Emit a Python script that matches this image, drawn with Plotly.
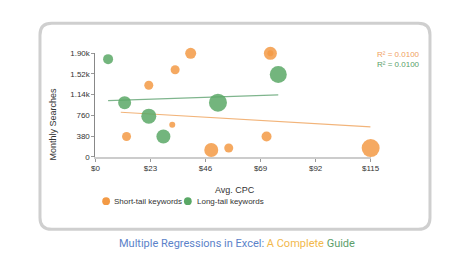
import plotly.graph_objects as go

W, H = 474, 271

# ---- data ----
short_cpc = [39.8, 33.3, 22.3, 32.1, 13.0, 48.4, 55.7, 73.1, 73.1, 71.5, 115.0]
short_searches = [1900, 1598, 1314, 586, 373, 124, 160, 1900, 1900, 373, 160]
short_size = [11, 9, 9, 6, 9, 14, 9, 13, 6, 10, 18]

long_cpc = [5.3, 12.2, 51.2, 22.3, 28.4, 76.4]
long_searches = [1793, 994, 994, 746, 373, 1509]
long_size = [10, 13, 18, 15, 14, 17]

short_trend_x = [10.6, 115.0]
short_trend_y = [817, 550]
long_trend_x = [5.3, 76.4]
long_trend_y = [1030, 1137]

x_tickvals = [0, 23, 46, 69, 92, 115]
x_ticktext = ["$0", "$23", "$46", "$69", "$92", "$115"]
y_tickvals = [0, 380, 760, 1140, 1520, 1900]
y_ticktext = ["0", "380", "760", "1.14k", "1.52k", "1.90k"]

ORANGE = "#f39a45"
GREEN = "#5aa866"
FONT = "Liberation Sans, Arial, sans-serif"

def px(x):
    return x / W

def py(y):
    return 1 - y / H

fig = go.Figure()

fig.add_trace(go.Scatter(x=short_trend_x, y=short_trend_y, mode="lines",
                         line=dict(color="#f2b47a", width=1.2), cliponaxis=False,
                         showlegend=False, hoverinfo="skip"))
fig.add_trace(go.Scatter(x=long_trend_x, y=long_trend_y, mode="lines",
                         line=dict(color="#7fb58d", width=1.2), cliponaxis=False,
                         showlegend=False, hoverinfo="skip"))

fig.add_trace(go.Scatter(x=short_cpc, y=short_searches, mode="markers",
                         marker=dict(size=short_size, color=ORANGE, opacity=0.85,
                                     line=dict(width=0)),
                         cliponaxis=False, showlegend=False, name="Short-tail keywords"))
fig.add_trace(go.Scatter(x=long_cpc, y=long_searches, mode="markers",
                         marker=dict(size=long_size, color=GREEN, opacity=0.85,
                                     line=dict(width=0)),
                         cliponaxis=False, showlegend=False, name="Long-tail keywords"))

axis_common = dict(showgrid=False, zeroline=False, showline=True, ticks="outside",
                   ticklen=3, tickcolor="#999", tickfont=dict(size=8, color="#333", family=FONT))

fig.update_xaxes(domain=[px(94), px(377)], range=[0, 115], tickvals=x_tickvals,
                 ticktext=x_ticktext, linecolor="#cccccc", linewidth=1.5, **axis_common)
fig.update_yaxes(domain=[py(158), py(51)], range=[0, 1900], tickvals=y_tickvals,
                 ticktext=y_ticktext, linecolor="#888888", linewidth=1, **axis_common)

r = 12
x0, x1, y0, y1 = 37, 438, 20, 233
path = (f"M {px(x0 + r)} {py(y0)} L {px(x1 - r)} {py(y0)} "
        f"Q {px(x1)} {py(y0)} {px(x1)} {py(y0 + r)} "
        f"L {px(x1)} {py(y1 - r)} Q {px(x1)} {py(y1)} {px(x1 - r)} {py(y1)} "
        f"L {px(x0 + r)} {py(y1)} Q {px(x0)} {py(y1)} {px(x0)} {py(y1 - r)} "
        f"L {px(x0)} {py(y0 + r)} Q {px(x0)} {py(y0)} {px(x0 + r)} {py(y0)} Z")

shapes = [
    dict(type="path", xref="paper", yref="paper", path=path,
         line=dict(color="#cfcfcf", width=3), layer="below"),
    dict(type="circle", xref="paper", yref="paper",
         x0=px(101), x1=px(109), y0=py(200), y1=py(208),
         fillcolor=ORANGE, line=dict(width=0)),
    dict(type="circle", xref="paper", yref="paper",
         x0=px(185), x1=px(193), y0=py(200), y1=py(208),
         fillcolor=GREEN, line=dict(width=0)),
]

def ann(text, x, y, xanchor="center", size=8.5, color="#333", **kw):
    return dict(text=text, x=px(x), y=py(y), xref="paper", yref="paper",
                xanchor=xanchor, yanchor="middle", showarrow=False,
                font=dict(size=size, color=color, family=kw.pop("family", FONT)), **kw)

annotations = [
    ann("Avg. CPC", 237, 192, size=9),
    ann("Monthly Searches", 50, 124, size=9, textangle=-90),
    ann("Short-tail keywords", 111, 204, xanchor="left", size=8),
    ann("Long-tail keywords", 196, 204, xanchor="left", size=8),
    ann("<span style='color:#f0a060'>R² = 0.0100</span><br>"
        "<span style='color:#5a9e68'>R² = 0.0100</span>",
        430, 57, xanchor="right", size=8, align="right"),
    ann("<span style='color:#5b82c9'>Multiple Regressions in Excel: </span>"
        "<span style='color:#f2b84b'>A Complete </span>"
        "<span style='color:#5d9e6a'>Guide</span>",
        240, 248, size=11, family="Roboto, sans-serif"),
]

fig.update_layout(width=W, height=H, margin=dict(l=0, r=0, t=0, b=0),
                  paper_bgcolor="white", plot_bgcolor="white",
                  shapes=shapes, annotations=annotations, showlegend=False)

fig.write_html("out.html")
